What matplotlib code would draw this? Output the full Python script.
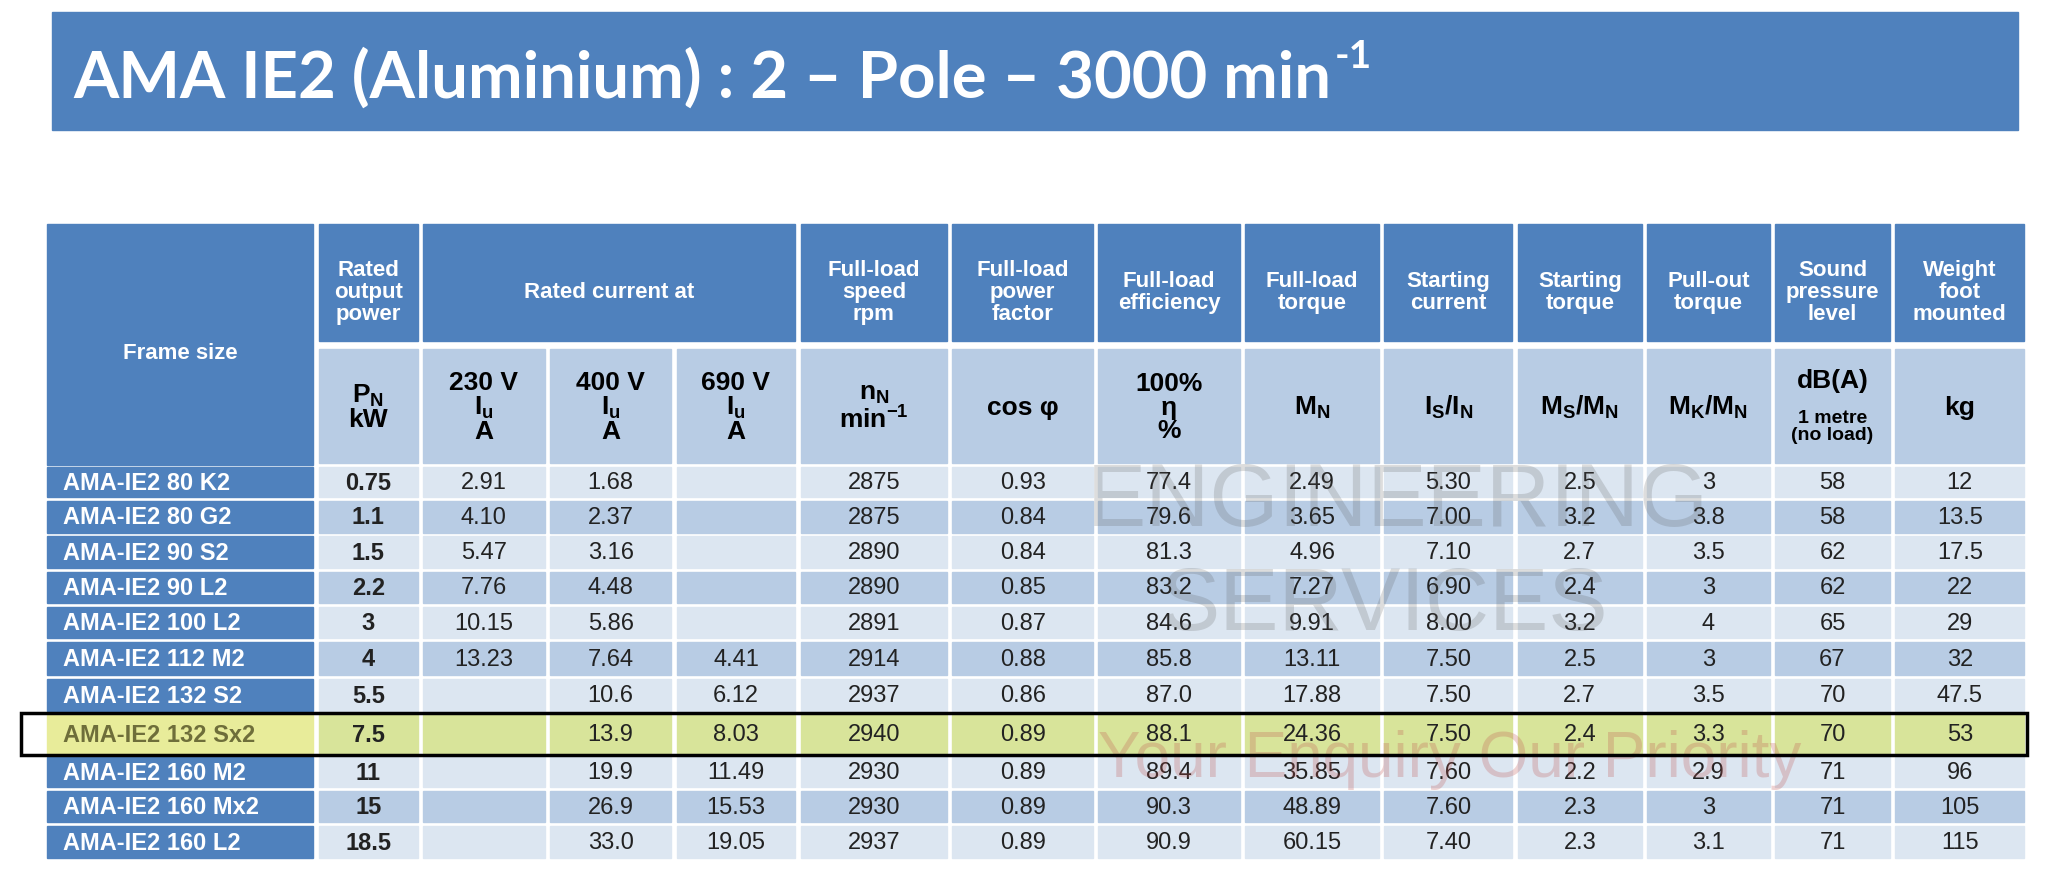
import matplotlib
matplotlib.use("Agg")
import matplotlib.pyplot as plt
from matplotlib.patches import Rectangle

title = "AMA IE2 (Aluminium) : 2 – Pole – 3000 min"
title_sup = "-1"
frames = ["AMA-IE2 80 K2","AMA-IE2 80 G2","AMA-IE2 90 S2","AMA-IE2 90 L2","AMA-IE2 100 L2",
          "AMA-IE2 112 M2","AMA-IE2 132 S2","AMA-IE2 132 Sx2","AMA-IE2 160 M2","AMA-IE2 160 Mx2","AMA-IE2 160 L2"]
power = ["0.75","1.1","1.5","2.2","3","4","5.5","7.5","11","15","18.5"]
i230 = ["2.91","4.10","5.47","7.76","10.15","13.23","","","","",""]
i400 = ["1.68","2.37","3.16","4.48","5.86","7.64","10.6","13.9","19.9","26.9","33.0"]
i690 = ["","","","","","4.41","6.12","8.03","11.49","15.53","19.05"]
speed = ["2875","2875","2890","2890","2891","2914","2937","2940","2930","2930","2937"]
pf = ["0.93","0.84","0.84","0.85","0.87","0.88","0.86","0.89","0.89","0.89","0.89"]
eff = ["77.4","79.6","81.3","83.2","84.6","85.8","87.0","88.1","89.4","90.3","90.9"]
torque = ["2.49","3.65","4.96","7.27","9.91","13.11","17.88","24.36","35.85","48.89","60.15"]
istart = ["5.30","7.00","7.10","6.90","8.00","7.50","7.50","7.50","7.60","7.60","7.40"]
mstart = ["2.5","3.2","2.7","2.4","3.2","2.5","2.7","2.4","2.2","2.3","2.3"]
mpull = ["3","3.8","3.5","3","4","3","3.5","3.3","2.9","3","3.1"]
sound = ["58","58","62","62","65","67","70","70","71","71","71"]
weight = ["12","13.5","17.5","22","29","32","47.5","53","96","105","115"]
head1 = ["Rated\noutput\npower","Rated current at","Full-load\nspeed\nrpm","Full-load\npower\nfactor",
         "Full-load\nefficiency","Full-load\ntorque","Starting\ncurrent","Starting\ntorque","Pull-out\ntorque",
         "Sound\npressure\nlevel","Weight\nfoot\nmounted"]
head2 = ["P$_\\mathregular{N}$\nkW","230 V\nI$_\\mathregular{u}$\nA","400 V\nI$_\\mathregular{u}$\nA","690 V\nI$_\\mathregular{u}$\nA",
         "n$_\\mathregular{N}$\nmin$^\\mathregular{-1}$","cos φ","100%\nη\n%","M$_\\mathregular{N}$","I$_\\mathregular{S}$/I$_\\mathregular{N}$",
         "M$_\\mathregular{S}$/M$_\\mathregular{N}$","M$_\\mathregular{K}$/M$_\\mathregular{N}$","dB(A)","kg"]

plt.rcParams['font.family'] = ["Liberation Sans", "DejaVu Sans"]
DARK = "#4F81BD"; L1 = "#B8CCE4"; L2 = "#DCE6F1"; HL = "#D8E49A"

fig = plt.figure(figsize=(20.48, 8.79), dpi=100)
ax = fig.add_axes([0, 0, 1, 1])
ax.set_xlim(0, 1568); ax.set_ylim(673, 0); ax.axis("off")

ax.add_patch(Rectangle((40, 10), 1505, 90, color=DARK))
tt = ax.text(56, 60, title, color="white", fontsize=47, fontweight="bold", va="center", family=["Lato", "DejaVu Sans"])
fig.canvas.draw()
bb = tt.get_window_extent().transformed(ax.transData.inverted())
ax.text(bb.x1 + 3, 43, title_sup, color="white", fontsize=28, fontweight="bold", va="center", family=["Lato", "DejaVu Sans"])

cx = [36, 242, 322, 419, 516, 611, 727, 839, 951, 1058, 1160, 1259, 1357, 1449, 1552]
g = 2
ax.add_patch(Rectangle((36, 172), 204, 185, color=DARK))
ax.text(138, 271, "Frame size", color="white", fontsize=16, fontweight="bold", ha="center", va="center")
spans = [(1, 2), (2, 5)] + [(k, k + 1) for k in range(5, 14)]
for (a, b), t in zip(spans, head1):
    ax.add_patch(Rectangle((cx[a] + g, 172), cx[b] - cx[a] - 2 * g, 90, color=DARK))
    ax.text((cx[a] + cx[b]) / 2, 224, t, color="white", fontsize=16, fontweight="bold", ha="center", va="center", linespacing=1.05)
for k in range(1, 14):
    ax.add_patch(Rectangle((cx[k] + g, 268), cx[k + 1] - cx[k] - 2 * g, 87, color=L1))
    y = 292 if k == 12 else 312
    ax.text((cx[k] + cx[k + 1]) / 2, y, head2[k - 1], color="black", fontsize=19, fontweight="bold", ha="center", va="center", linespacing=0.95)
ax.text((cx[12] + cx[13]) / 2, 327, "1 metre\n(no load)", fontsize=14, fontweight="bold", ha="center", va="center", linespacing=1.05)

cols = [power, i230, i400, i690, speed, pf, eff, torque, istart, mstart, mpull, sound, weight]
ry = [357, 383, 410, 437, 464, 491, 519, 547, 579, 605, 632, 659]
for r in range(11):
    y0, y1 = ry[r] + 1.5, ry[r + 1] - 1.5
    hl = r == 7
    ax.add_patch(Rectangle((36, y0), 204, y1 - y0, color=("#E8EC9A" if hl else DARK)))
    ax.text(48, (y0 + y1) / 2, frames[r], color=("#6E6E3A" if hl else "white"), fontsize=17, fontweight="bold", va="center")
    for k in range(1, 14):
        c = HL if hl else (L2 if r % 2 == 0 else L1)
        ax.add_patch(Rectangle((cx[k] + g, y0), cx[k + 1] - cx[k] - 2 * g, y1 - y0, color=c))
        ax.text((cx[k] + cx[k + 1]) / 2, (y0 + y1) / 2, cols[k - 1][r], fontsize=17,
                fontweight=("bold" if k == 1 else "normal"), color="#222222", ha="center", va="center")
ax.add_patch(Rectangle((16, 547), 1536, 32, fill=False, ec="black", lw=2.5, zorder=5))

# semi-transparent watermark over the table, as in the reference
ax.text(1070, 385, "ENGINEERING", fontsize=64, color="#555555", alpha=0.2, ha="center", va="center", zorder=4)
ax.text(1060, 465, "SERVICES", fontsize=64, color="#555555", alpha=0.2, ha="center", va="center", zorder=4)
ax.text(1110, 582, "Your Enquiry Our Priority", fontsize=46, color="#C0504D", alpha=0.25, ha="center", va="center", zorder=4)

fig.savefig("out.png", dpi=100, facecolor="white")
